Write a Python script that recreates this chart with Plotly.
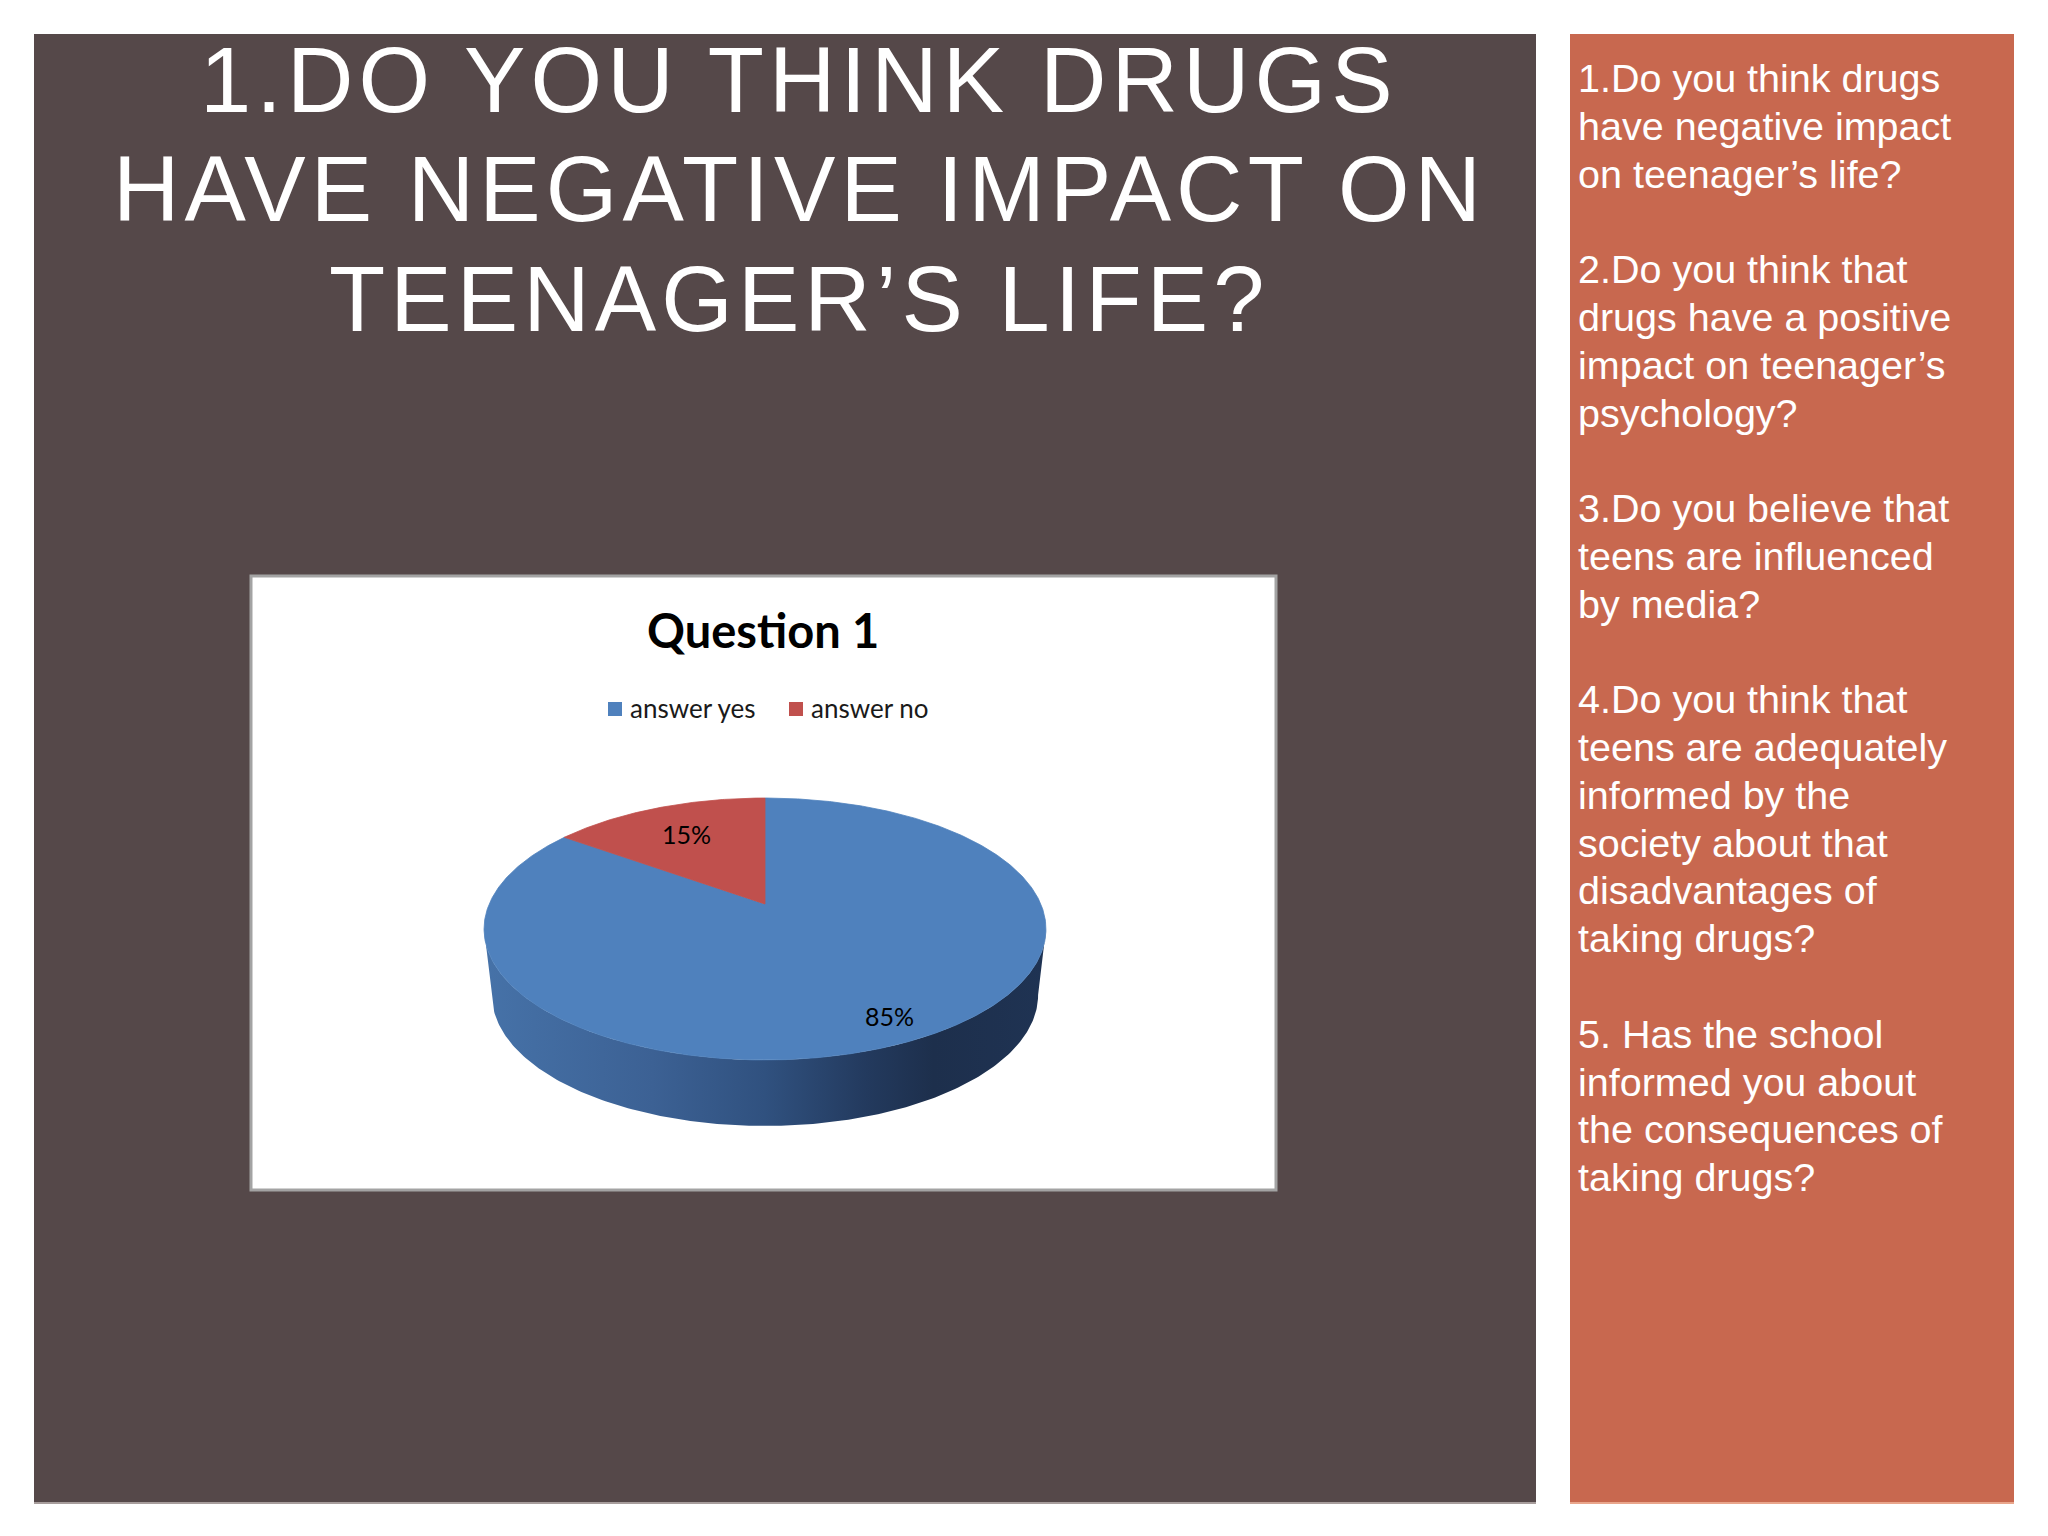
import numpy as np
import plotly.graph_objects as go

# ---------------- data ----------------
categories = ["answer yes", "answer no"]
values = [85, 15]
slice_colors = ["#4f81bd", "#c0504d"]
chart_title = "Question 1"

title_lines = ["1.DO YOU THINK DRUGS", "HAVE NEGATIVE IMPACT ON", "TEENAGER\u2019S LIFE?"]

question_lines = [
    "1.Do you think drugs", "have negative impact", "on teenager\u2019s life?", "",
    "2.Do you think that", "drugs have a positive", "impact on teenager\u2019s", "psychology?", "",
    "3.Do you believe that", "teens are influenced", "by media?", "",
    "4.Do you think that", "teens are adequately", "informed by the", "society about that",
    "disadvantages of", "taking drugs?", "",
    "5. Has the school", "informed you about", "the consequences of", "taking drugs?",
]

# ---------------- layout constants (pixels) ----------------
W, H = 2048, 1536
DARK = "#554849"
ORANGE = "#c8684f"

# pie projection parameters
CX, CY = 765.0, 904.0      # projected centre of the pie top
K = 0.1908                 # perspective strength
A, B = 275.8, 126.2        # horizontal / vertical radius factors
DEPTH = 66.0
BOT_SCALE = 0.972


def proj(alpha_deg, r=1.0):
    a = np.radians(alpha_deg)
    u = r * np.sin(a)
    v = r * np.cos(a)
    w = 1 + K * v
    return CX + A * u / w, CY - B * v / w


def px_ann(x, y, text, size, family, color, xanchor="center", bold=False, spacing=None):
    if bold:
        text = f"<b>{text}</b>"
    if spacing is not None:
        text = f'<span style="letter-spacing:{spacing}px">{text}</span>'
    return dict(x=x / W, y=1 - y / H, xref="paper", yref="paper",
                text=text, showarrow=False,
                xanchor=xanchor, yanchor="middle",
                font=dict(family=family, size=size, color=color))


fig = go.Figure()

# side wall (front part)
a_s = np.degrees(np.arccos(-K))
al = np.linspace(a_s, 360 - a_s, 200)
tx, ty = proj(al)
bx = CX + BOT_SCALE * (tx - CX)
by = ty + DEPTH
wx = np.concatenate([tx, bx[::-1], tx[:1]])
wy = np.concatenate([ty, by[::-1], ty[:1]])
fig.add_trace(go.Scatter(
    x=wx, y=wy, mode="lines", fill="toself",
    line=dict(width=0, color="#2f4f7f"),
    fillgradient=dict(type="horizontal", colorscale=[
        [0.0, "#4672a8"], [0.3, "#3c6194"], [0.5, "#30517f"],
        [0.68, "#233a5e"], [0.8, "#1d2f4c"], [1.0, "#1f3353"]]),
    hoverinfo="skip", showlegend=False))

ann = []

# top face slices
total = sum(values)
start = 0.0
label_r = [0.85, 0.7]
for i, (cat, val) in enumerate(zip(categories, values)):
    span = 360.0 * val / total
    aa = np.linspace(start, start + span, max(int(span * 2), 10))
    px, py = proj(aa)
    xs = np.concatenate([[CX], px, [CX]])
    ys = np.concatenate([[CY], py, [CY]])
    fig.add_trace(go.Scatter(
        x=xs, y=ys, mode="lines", fill="toself", fillcolor=slice_colors[i],
        line=dict(width=0.8, color=slice_colors[i]),
        hoverinfo="skip", showlegend=False, name=cat))
    lx, ly = proj(start + span / 2, label_r[i])
    ann.append(px_ann(float(lx), float(ly), f"{val}%", 25, "Lato", "#000000"))
    start += span

shapes = [
    dict(type="rect", x0=34, x1=1536, y0=34, y1=1504, fillcolor=DARK,
         line=dict(width=0), layer="below"),
    dict(type="line", x0=34, x1=1536, y0=1503, y1=1503,
         line=dict(color="#a79d9c", width=2), layer="below"),
    dict(type="rect", x0=1570, x1=2014, y0=34, y1=1504, fillcolor=ORANGE,
         line=dict(width=0), layer="below"),
    dict(type="line", x0=1570, x1=2014, y0=1503, y1=1503,
         line=dict(color="#e9a68c", width=2), layer="below"),
    dict(type="rect", x0=251, x1=1276, y0=576, y1=1190, fillcolor="#ffffff",
         line=dict(color="#a3a3a3", width=3), layer="below"),
    # legend swatches
    dict(type="rect", x0=608, x1=622, y0=702, y1=716, fillcolor=slice_colors[0],
         line=dict(width=0)),
    dict(type="rect", x0=789, x1=803, y0=702, y1=716, fillcolor=slice_colors[1],
         line=dict(width=0)),
]

# slide title
for yc, line in zip([80, 189, 299], title_lines):
    ann.append(px_ann(799, yc, line, 92, "Liberation Sans, Arial", "#ffffff", spacing=5.1))

# questions
for j, line in enumerate(question_lines):
    if not line:
        continue
    ann.append(px_ann(1576, 78.4 + j * 47.77, line, 39.5, "Liberation Sans, Arial",
                      "#ffffff", xanchor="left"))

# chart title and legend
ann.append(px_ann(763, 630, chart_title, 47, "Lato", "#000000", bold=True))
ann.append(px_ann(628, 708, categories[0], 26, "Lato", "#1a1a1a", xanchor="left"))
ann.append(px_ann(809, 708, categories[1], 26, "Lato", "#1a1a1a", xanchor="left"))

fig.update_layout(
    width=W, height=H, autosize=False,
    margin=dict(l=0, r=0, t=0, b=0, pad=0),
    paper_bgcolor="#ffffff", plot_bgcolor="#ffffff",
    xaxis=dict(range=[0, W], visible=False, fixedrange=True, domain=[0, 1]),
    yaxis=dict(range=[H, 0], visible=False, fixedrange=True, domain=[0, 1]),
    shapes=shapes, annotations=ann, showlegend=False,
)

fig.write_html("out.html", config={"displayModeBar": False, "staticPlot": True})
